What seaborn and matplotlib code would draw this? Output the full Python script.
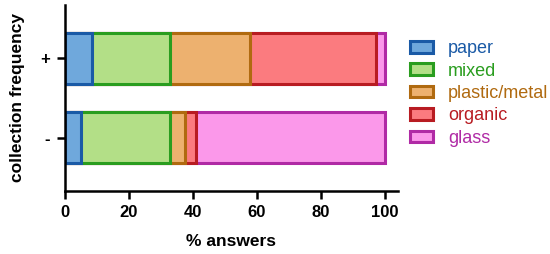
import matplotlib
matplotlib.use("Agg")
import matplotlib.pyplot as plt
import seaborn as sns
import pandas as pd
import numpy as np
from matplotlib.patches import Patch

sns.set_style("white")
plt.rcParams['font.family'] = ['Liberation Sans', 'DejaVu Sans']
plt.rcParams['text.color'] = 'black'
plt.rcParams['axes.labelcolor'] = 'black'

groups = ["+", "-"]
materials = ["paper", "mixed", "plastic/metal", "organic", "glass"]
paper = [8.6, 5.0]
mixed = [24.2, 27.8]
plastic_metal = [25.2, 4.9]
organic = [39.2, 3.4]
glass = [2.8, 58.9]

faces = ["#6fa8dc", "#b3df87", "#edb16f", "#fb7b7f", "#fb98ea"]
edges = ["#1a5aa6", "#2a9d1f", "#b06a10", "#b81c22", "#b02aa5"]

series = [paper, mixed, plastic_metal, organic, glass]
cum = np.cumsum(np.array(series), axis=0)

fig = plt.figure(figsize=(5.5, 2.54), dpi=100)
ax = fig.add_axes([65/550, 1-191/254, (398-65)/550, (191-5)/254])

for i in range(len(materials) - 1, -1, -1):
    df = pd.DataFrame({"group": groups, "value": cum[i]})
    sns.barplot(data=df, x="value", y="group", orient="h", order=groups,
                color=faces[i], edgecolor=edges[i], linewidth=2.2,
                width=0.64, saturation=1, ax=ax)

ax.set_xlim(0, 104.2)
ax.set_ylim(1.67, -0.67)
ax.set_xticks([0, 20, 40, 60, 80, 100])
ax.set_xlabel("% answers", fontsize=12.5, fontweight="bold", labelpad=10, color="black")
ax.set_ylabel("collection frequency", fontsize=12.5, fontweight="bold", labelpad=11, color="black")
for s in ["top", "right"]:
    ax.spines[s].set_visible(False)
for s in ["left", "bottom"]:
    ax.spines[s].set_linewidth(1.8)
    ax.spines[s].set_color("black")
ax.tick_params(axis="both", direction="out", length=6, width=1.8, colors="black",
               labelcolor="black", bottom=True, left=True)
ax.tick_params(axis="x", labelsize=12, pad=4)
ax.tick_params(axis="y", labelsize=12, pad=5)
for lab in ax.get_xticklabels() + ax.get_yticklabels():
    lab.set_fontweight("bold")

handles = [Patch(facecolor=f, edgecolor=e, linewidth=2.2) for f, e in zip(faces, edges)]
leg = fig.legend(handles, materials, loc="center left",
                 bbox_to_anchor=(410/550, 1-93.5/254), frameon=False,
                 fontsize=13, borderpad=0, borderaxespad=0,
                 handlelength=1.3, handleheight=0.6, handletextpad=0.8,
                 labelspacing=0.3)
for t, e in zip(leg.get_texts(), edges):
    t.set_color(e)

fig.savefig("out.png", dpi=100)
